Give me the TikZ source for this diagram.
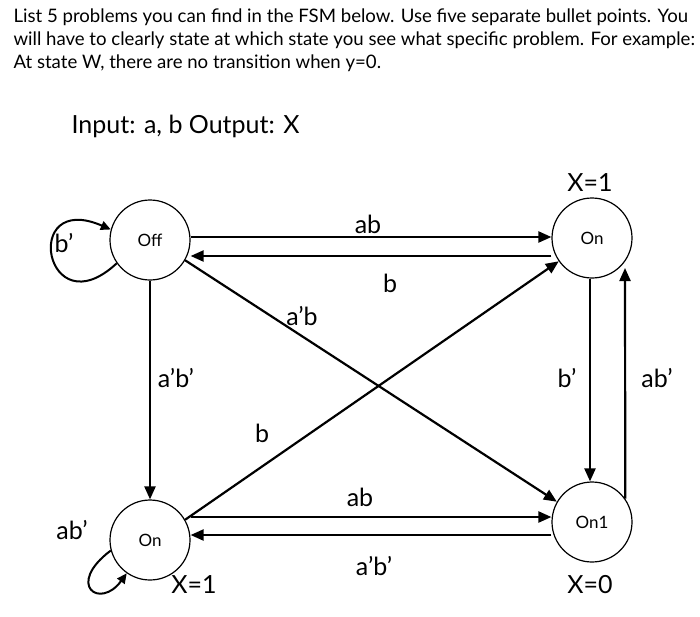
\documentclass[tikz,border=0pt]{standalone}
\usepackage{fontspec}
\setmainfont{Lato}
\usetikzlibrary{arrows.meta}
\begin{document}
\begin{tikzpicture}[x=1pt,y=-1pt,
  st/.style={draw,circle,line width=1.2pt,minimum size=80pt,inner sep=0pt,font=\fontsize{17}{20}\selectfont},
  tr/.style={line width=2.2pt,-{Triangle[length=13pt,width=11pt]}},
  lb/.style={font=\fontsize{25}{28}\selectfont},
  tx/.style={font=\fontsize{18.6}{22}\selectfont,anchor=west}]
\useasboundingbox[fill=white] (0,0) rectangle (700,616);
\node[tx] (t1) at (10,17) {List 5 problems you can find in the FSM below. Use five separate bullet points. You};
\node[tx] (t2) at (10,40) {will have to clearly state at which state you see what specific problem. For example:};
\node[tx] (t3) at (10,63) {At state W, there are no transition when y=0.};
\node[anchor=west,font=\fontsize{25}{28}\selectfont] (io) at (68,126) {Input: a, b Output: X};
\node[st] (off) at (150,240) {Off};
\node[st] (on) at (592,238) {On};
\node[st] (onb) at (150,540) {On};
\node[st] (on1) at (592,522) {On1};
\draw[line width=2pt,-{Triangle[length=10pt,width=9pt]}] (off.215) .. controls (45,330) and (20,190) .. (off.165);
\draw[line width=2pt,-{Triangle[length=10pt,width=9pt]}] (onb.195) .. controls (65,585) and (100,610) .. (onb.235);
\draw[tr] (off.east |- 0,237) -- (on.west |- 0,237);
\draw[tr] (on.west |- 0,256) -- (off.east |- 0,256);
\draw[tr] (off.south) -- (onb.north);
\draw[tr] (off.-30) -- (on1.150);
\draw[tr] (onb.30) -- (on.-145);
\draw[tr] (on.south -| 590,0) -- (on1.north -| 590,0);
\draw[tr] (on1.35) -- (625,268) coordinate (c1);
\draw[tr] (onb.east |- 0,517) -- (on1.west |- 0,517);
\draw[tr] (on1.west |- 0,535) -- (onb.east |- 0,535);
\node[lb] (l1) at (368,224) {ab};
\node[lb] (l2) at (390,283) {b};
\node[lb] (l3) at (302,316) {a’b};
\node[lb] (l4) at (176,378) {a’b’};
\node[lb] (l5) at (262,433) {b};
\node[lb] (l6) at (567,378) {b’};
\node[lb] (l7) at (657,378) {ab’};
\node[lb] (l8) at (360,497) {ab};
\node[lb] (l9) at (374,566) {a’b’};
\node[lb] (l10) at (64,243) {b’};
\node[lb] (l11) at (72,530) {ab’};
\node[lb] (x1) at (590,183) {X=1};
\node[lb] (x2) at (194,585) {X=1};
\node[lb] (x3) at (590,585) {X=0};
\end{tikzpicture}
\end{document}
